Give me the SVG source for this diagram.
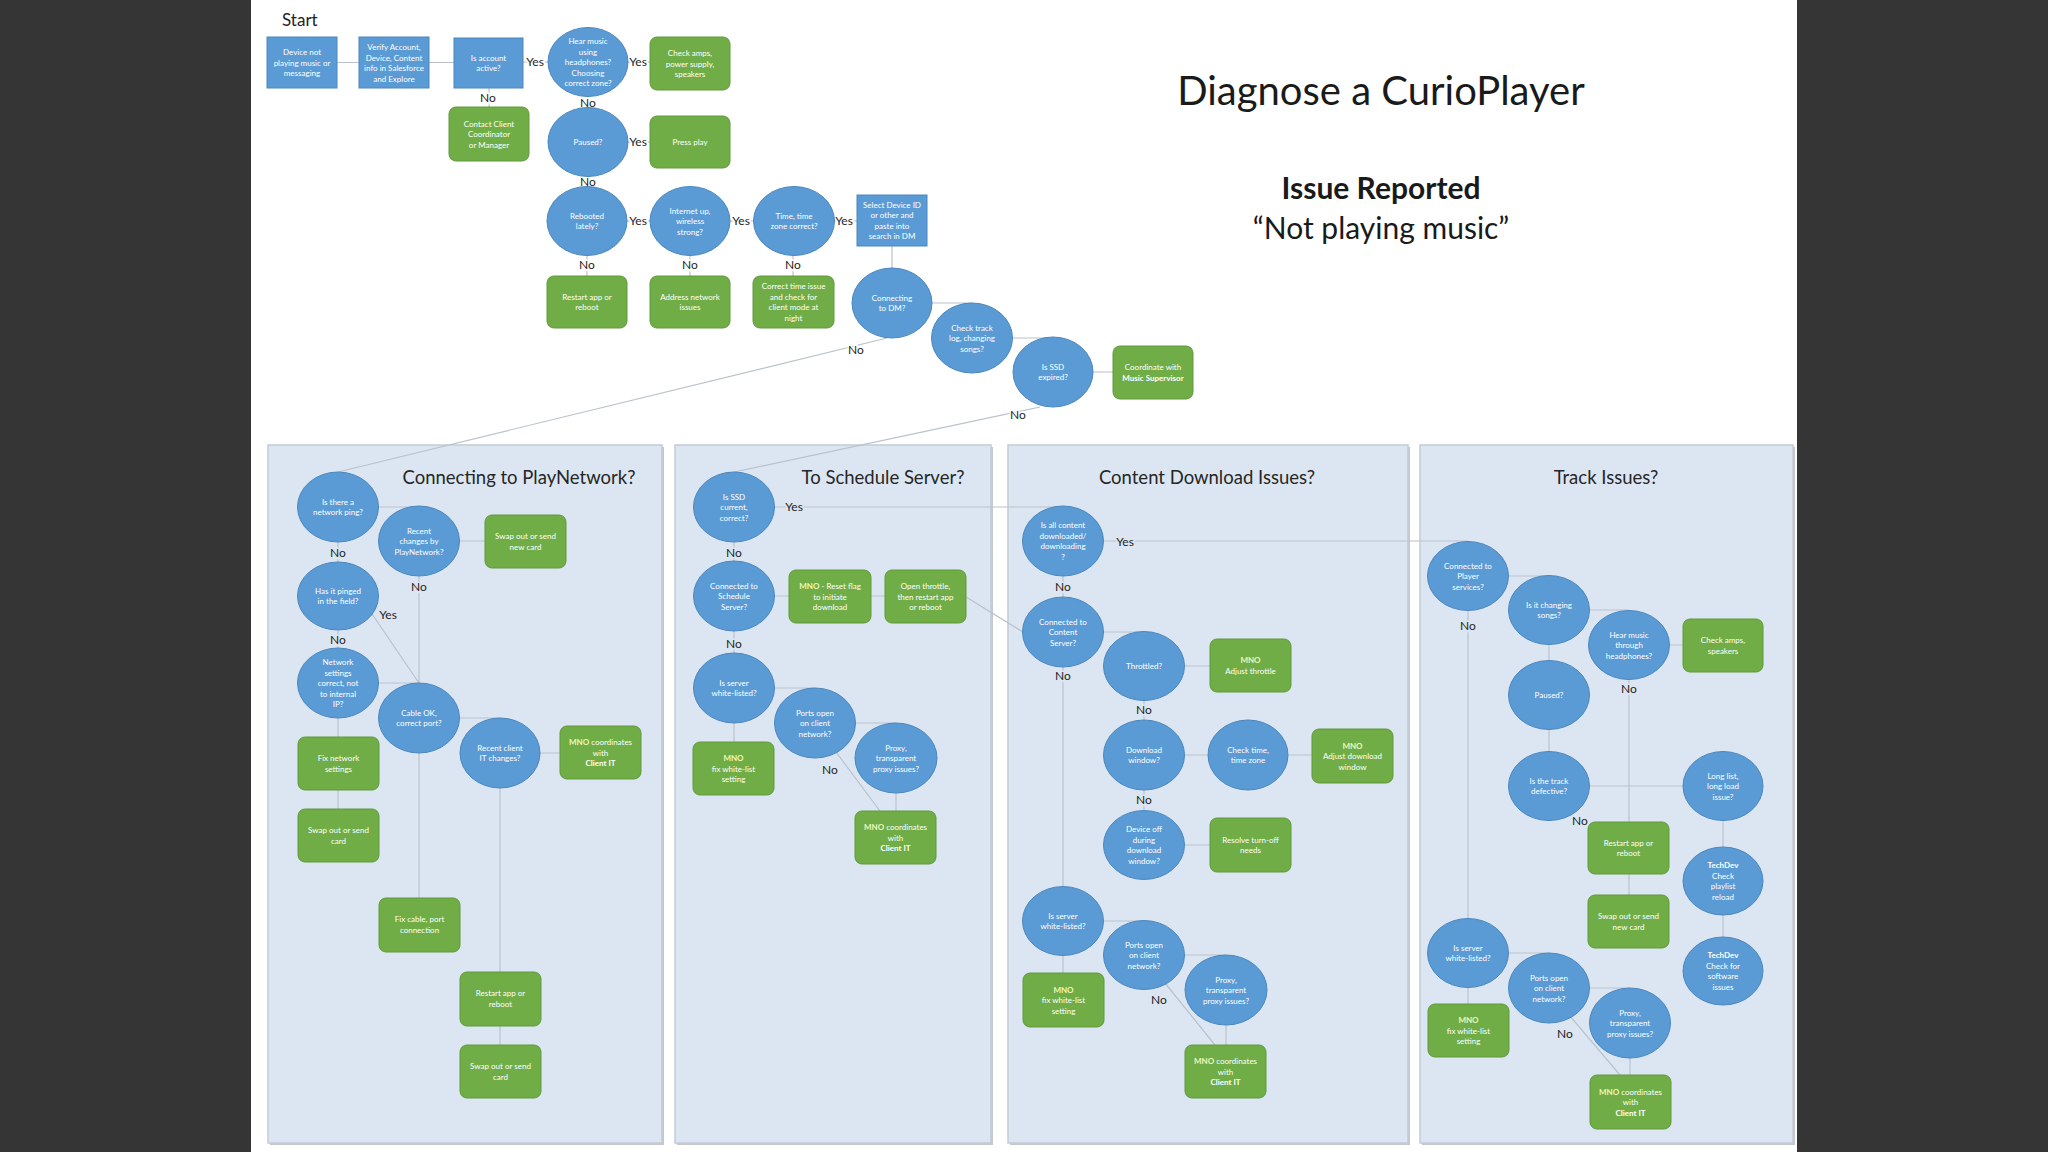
<svg xmlns="http://www.w3.org/2000/svg" width="2048" height="1152" viewBox="0 0 2048 1152">
<style>
.bc{fill:#5b9bd5;stroke:#4a86bd;stroke-width:1}
.br{fill:#5b9bd5;stroke:#4a86bd;stroke-width:1}
.gr{fill:#70ad47;stroke:#5f9a3a;stroke-width:1}
.t{font-family:Lato,"Open Sans",sans-serif;font-size:8px;fill:#ffffff;text-anchor:middle}
.mno{font-weight:bold;fill:#eef8b8}
.bd{font-weight:bold}
.ln{fill:none;stroke:#b9c2cc;stroke-width:1.2}
.lw{font-family:Lato,"Open Sans",sans-serif;font-size:12px;fill:#1e1e1e;text-anchor:middle;paint-order:stroke;stroke:#ffffff;stroke-width:3}
.lb{font-family:Lato,"Open Sans",sans-serif;font-size:12px;fill:#1e1e1e;text-anchor:middle;paint-order:stroke;stroke:#dce6f2;stroke-width:3}
.panel{fill:#dce6f2;stroke:#c3cbd5;stroke-width:1.5}
.pshadow{fill:#c4c8cc}
.pt{font-family:Lato,"Open Sans",sans-serif;font-size:18.5px;fill:#262626;text-anchor:middle}
</style>
<rect x="0" y="0" width="2048" height="1152" fill="#353535"/>
<rect x="251" y="0" width="1546" height="1152" fill="#ffffff"/>

<g id="panels">
<rect class="pshadow" x="270" y="447" width="394" height="698"/>
<rect class="panel" x="268" y="445" width="394" height="698"/>
<rect class="pshadow" x="677" y="447" width="316" height="698"/>
<rect class="panel" x="675" y="445" width="316" height="698"/>
<rect class="pshadow" x="1010" y="447" width="400" height="698"/>
<rect class="panel" x="1008" y="445" width="400" height="698"/>
<rect class="pshadow" x="1422" y="447" width="373" height="698"/>
<rect class="panel" x="1420" y="445" width="373" height="698"/>
<text class="pt" x="519" y="484">Connecting to PlayNetwork?</text>
<text class="pt" x="883" y="484">To Schedule Server?</text>
<text class="pt" x="1207" y="484">Content Download Issues?</text>
<text class="pt" x="1606" y="484">Track Issues?</text>
</g>

<g id="titles">
<text x="282" y="26" font-family="Lato,'Open Sans',sans-serif" font-size="17" fill="#222">Start</text>
<text x="1381" y="105" font-family="Lato,'Open Sans',sans-serif" font-size="40" fill="#1a1a1a" text-anchor="middle">Diagnose a CurioPlayer</text>
<text x="1381" y="199" font-family="Lato,'Open Sans',sans-serif" font-size="30" font-weight="bold" fill="#1a1a1a" text-anchor="middle">Issue Reported</text>
<text x="1381" y="239" font-family="Lato,'Open Sans',sans-serif" font-size="30" fill="#1a1a1a" text-anchor="middle">“Not playing music”</text>
</g>

<g id="connectors">
<path class="ln" d="M337 62.5H359M429 62.5H454M523 62H548M628 62H650M489 88V107M588 96V108M628 142H650M588 176V187M627 221H650M730 221H753M834 221H857M587 255V276M690 255V276M793 255V276M892 246V268M932 303H972M1012 338H1053M1093 372H1113M887 338L338 472M1040 407L734 472"/>
<path class="ln" d="M379 507H419M460 541H485M338 542V562M419 576V683M338 631V648M372 614L419 683M379 683H419M338 717V737M338 790V809M460 718H500M419 753V898M540 753H560M500 788V972M500 1026V1045"/>
<path class="ln" d="M774 507H1063M734 542V562M774 596H789M871 596H885M966 597L1023 632M734 631V653M774 688H815M855 723H896M734 723V742M896 793V811M836 752L880 811"/>
<path class="ln" d="M1104 541H1468M1063 576V597M1104 632H1144M1185 666H1210M1063 666V887M1144 700V720M1185 755H1208M1288 755H1312M1144 790V811M1185 845H1210M1104 921H1144M1185 955H1226M1063 956V973M1226 1025V1045M1165 983L1215 1045"/>
<path class="ln" d="M1509 576H1549M1589 610H1629M1670 645H1683M1468 610V919M1549 645V661M1549 729V752M1629 679V822M1589 786H1683M1629 874V895M1723 821V847M1723 915V937M1509 953H1549M1590 988H1630M1468 988V1004M1630 1058V1075M1570 1016L1620 1075"/>
<g id="labels">
<text class="lw" x="535" y="66">Yes</text><text class="lw" x="638" y="66">Yes</text>
<text class="lw" x="488" y="102">No</text><text class="lw" x="588" y="107">No</text>
<text class="lw" x="638" y="146">Yes</text><text class="lw" x="588" y="186">No</text>
<text class="lw" x="638" y="225">Yes</text><text class="lw" x="741" y="225">Yes</text><text class="lw" x="844" y="225">Yes</text>
<text class="lw" x="587" y="269">No</text><text class="lw" x="690" y="269">No</text><text class="lw" x="793" y="269">No</text>
<text class="lw" x="856" y="354">No</text><text class="lw" x="1018" y="419">No</text>
<text class="lb" x="338" y="557">No</text><text class="lb" x="419" y="591">No</text><text class="lb" x="388" y="619">Yes</text><text class="lb" x="338" y="644">No</text>
<text class="lb" x="794" y="511">Yes</text><text class="lb" x="734" y="557">No</text><text class="lb" x="734" y="648">No</text><text class="lb" x="830" y="774">No</text>
<text class="lb" x="1125" y="546">Yes</text><text class="lb" x="1063" y="591">No</text><text class="lb" x="1063" y="680">No</text><text class="lb" x="1144" y="714">No</text><text class="lb" x="1144" y="804">No</text><text class="lb" x="1159" y="1004">No</text>
<text class="lb" x="1468" y="630">No</text><text class="lb" x="1629" y="693">No</text><text class="lb" x="1580" y="825">No</text><text class="lb" x="1565" y="1038">No</text>
</g>
</g>

<g id="top-nodes">
<g id="b1"><rect class="br" x="267" y="37" width="70" height="51"/><text class="t" y="55"><tspan x="302">Device not</tspan><tspan x="302" dy="10.5">playing music or</tspan><tspan x="302" dy="10.5">messaging</tspan></text></g>
<g id="b2"><rect class="br" x="359" y="37" width="70" height="51"/><text class="t" y="50"><tspan x="394">Verify Account,</tspan><tspan x="394" dy="10.5">Device, Content</tspan><tspan x="394" dy="10.5">info in Salesforce</tspan><tspan x="394" dy="10.5">and Explore</tspan></text></g>
<g id="b3"><rect class="br" x="454" y="38" width="69" height="50"/><text class="t" y="60.75"><tspan x="488.5">Is account</tspan><tspan x="488.5" dy="10.5">active?</tspan></text></g>
<g id="c1"><ellipse class="bc" cx="588" cy="62" rx="40" ry="34.5"/><text class="t" y="44"><tspan x="588">Hear music</tspan><tspan x="588" dy="10.5">using</tspan><tspan x="588" dy="10.5">headphones?</tspan><tspan x="588" dy="10.5">Choosing</tspan><tspan x="588" dy="10.5">correct zone?</tspan></text></g>
<g id="g1"><rect class="gr" x="650" y="37" width="80" height="53" rx="7"/><text class="t" y="56"><tspan x="690">Check amps,</tspan><tspan x="690" dy="10.5">power supply,</tspan><tspan x="690" dy="10.5">speakers</tspan></text></g>
<g id="g2"><rect class="gr" x="449" y="107" width="80" height="54" rx="7"/><text class="t" y="126.5"><tspan x="489">Contact Client</tspan><tspan x="489" dy="10.5">Coordinator</tspan><tspan x="489" dy="10.5">or Manager</tspan></text></g>
<g id="c2"><ellipse class="bc" cx="588" cy="142" rx="40" ry="34.5"/><text class="t" x="588" y="145">Paused?</text></g>
<g id="g3"><rect class="gr" x="650" y="116" width="80" height="52" rx="7"/><text class="t" x="690" y="145">Press play</text></g>
<g id="c3"><ellipse class="bc" cx="587" cy="221" rx="40" ry="34.5"/><text class="t" y="218.75"><tspan x="587">Rebooted</tspan><tspan x="587" dy="10.5">lately?</tspan></text></g>
<g id="c4"><ellipse class="bc" cx="690" cy="221" rx="40" ry="34.5"/><text class="t" y="213.5"><tspan x="690">Internet up,</tspan><tspan x="690" dy="10.5">wireless</tspan><tspan x="690" dy="10.5">strong?</tspan></text></g>
<g id="c5"><ellipse class="bc" cx="794" cy="221" rx="40.5" ry="34.5"/><text class="t" y="218.75"><tspan x="794">Time, time</tspan><tspan x="794" dy="10.5">zone correct?</tspan></text></g>
<g id="b4"><rect class="br" x="857" y="195" width="70" height="51"/><text class="t" y="207.75"><tspan x="892">Select Device ID</tspan><tspan x="892" dy="10.5">or other and</tspan><tspan x="892" dy="10.5">paste into</tspan><tspan x="892" dy="10.5">search in DM</tspan></text></g>
<g id="g4"><rect class="gr" x="547" y="276" width="80" height="52" rx="7"/><text class="t" y="299.75"><tspan x="587">Restart app or</tspan><tspan x="587" dy="10.5">reboot</tspan></text></g>
<g id="g5"><rect class="gr" x="650" y="276" width="80" height="52" rx="7"/><text class="t" y="299.75"><tspan x="690">Address network</tspan><tspan x="690" dy="10.5">issues</tspan></text></g>
<g id="g6"><rect class="gr" x="753" y="276" width="81" height="52" rx="7"/><text class="t" y="289.25"><tspan x="793.5">Correct time issue</tspan><tspan x="793.5" dy="10.5">and check for</tspan><tspan x="793.5" dy="10.5">client mode at</tspan><tspan x="793.5" dy="10.5">night</tspan></text></g>
<g id="c6"><ellipse class="bc" cx="892" cy="303" rx="40" ry="35"/><text class="t" y="300.75"><tspan x="892">Connecting</tspan><tspan x="892" dy="10.5">to DM?</tspan></text></g>
<g id="c7"><ellipse class="bc" cx="972" cy="338" rx="40.5" ry="35"/><text class="t" y="330.5"><tspan x="972">Check track</tspan><tspan x="972" dy="10.5">log, changing</tspan><tspan x="972" dy="10.5">songs?</tspan></text></g>
<g id="c8"><ellipse class="bc" cx="1053" cy="372" rx="40" ry="35"/><text class="t" y="369.75"><tspan x="1053">Is SSD</tspan><tspan x="1053" dy="10.5">expired?</tspan></text></g>
<g id="g7"><rect class="gr" x="1113" y="346" width="80" height="53" rx="7"/><text class="t" y="370.25"><tspan x="1153">Coordinate with</tspan><tspan x="1153" dy="10.5" class="bd">Music Supervisor</tspan></text></g>
</g>

<g id="panel1-nodes">
<g id="p1c1"><ellipse class="bc" cx="338" cy="507" rx="40.5" ry="35"/><text class="t" y="504.75"><tspan x="338">Is there a</tspan><tspan x="338" dy="10.5">network ping?</tspan></text></g>
<g id="p1c2"><ellipse class="bc" cx="419" cy="541" rx="40.5" ry="35"/><text class="t" y="533.5"><tspan x="419">Recent</tspan><tspan x="419" dy="10.5">changes by</tspan><tspan x="419" dy="10.5">PlayNetwork?</tspan></text></g>
<g id="p1g1"><rect class="gr" x="485" y="515" width="81" height="53" rx="7"/><text class="t" y="539.25"><tspan x="525.5">Swap out or send</tspan><tspan x="525.5" dy="10.5">new card</tspan></text></g>
<g id="p1c3"><ellipse class="bc" cx="338" cy="596" rx="40.5" ry="34"/><text class="t" y="593.75"><tspan x="338">Has it pinged</tspan><tspan x="338" dy="10.5">in the field?</tspan></text></g>
<g id="p1c4"><ellipse class="bc" cx="338" cy="683" rx="40.5" ry="35"/><text class="t" y="665"><tspan x="338">Network</tspan><tspan x="338" dy="10.5">settings</tspan><tspan x="338" dy="10.5">correct, not</tspan><tspan x="338" dy="10.5">to internal</tspan><tspan x="338" dy="10.5">IP?</tspan></text></g>
<g id="p1c5"><ellipse class="bc" cx="419" cy="718" rx="40.5" ry="35"/><text class="t" y="715.75"><tspan x="419">Cable OK,</tspan><tspan x="419" dy="10.5">correct port?</tspan></text></g>
<g id="p1c6"><ellipse class="bc" cx="500" cy="753" rx="40" ry="35"/><text class="t" y="750.75"><tspan x="500">Recent client</tspan><tspan x="500" dy="10.5">IT changes?</tspan></text></g>
<g id="p1g2"><rect class="gr" x="560" y="726" width="81" height="53" rx="7"/><text class="t" y="745"><tspan x="600.5"><tspan class="mno">MNO</tspan> coordinates</tspan><tspan x="600.5" dy="10.5">with</tspan><tspan x="600.5" dy="10.5" class="bd">Client IT</tspan></text></g>
<g id="p1g3"><rect class="gr" x="298" y="737" width="81" height="53" rx="7"/><text class="t" y="761.25"><tspan x="338.5">Fix network</tspan><tspan x="338.5" dy="10.5">settings</tspan></text></g>
<g id="p1g4"><rect class="gr" x="298" y="809" width="81" height="53" rx="7"/><text class="t" y="833.25"><tspan x="338.5">Swap out or send</tspan><tspan x="338.5" dy="10.5">card</tspan></text></g>
<g id="p1g5"><rect class="gr" x="379" y="898" width="81" height="54" rx="7"/><text class="t" y="922.25"><tspan x="419.5">Fix cable, port</tspan><tspan x="419.5" dy="10.5">connection</tspan></text></g>
<g id="p1g6"><rect class="gr" x="460" y="972" width="81" height="54" rx="7"/><text class="t" y="996.25"><tspan x="500.5">Restart app or</tspan><tspan x="500.5" dy="10.5">reboot</tspan></text></g>
<g id="p1g7"><rect class="gr" x="460" y="1045" width="81" height="53" rx="7"/><text class="t" y="1069.25"><tspan x="500.5">Swap out or send</tspan><tspan x="500.5" dy="10.5">card</tspan></text></g>
</g>

<g id="panel2-nodes">
<g id="p2c1"><ellipse class="bc" cx="734" cy="507" rx="40.5" ry="35"/><text class="t" y="499.5"><tspan x="734">Is SSD</tspan><tspan x="734" dy="10.5">current,</tspan><tspan x="734" dy="10.5">correct?</tspan></text></g>
<g id="p2c2"><ellipse class="bc" cx="734" cy="596" rx="40.5" ry="35"/><text class="t" y="588.5"><tspan x="734">Connected to</tspan><tspan x="734" dy="10.5">Schedule</tspan><tspan x="734" dy="10.5">Server?</tspan></text></g>
<g id="p2g1"><rect class="gr" x="789" y="570" width="82" height="53" rx="7"/><text class="t" y="589"><tspan x="830"><tspan class="mno">MNO</tspan> - Reset flag</tspan><tspan x="830" dy="10.5">to initiate</tspan><tspan x="830" dy="10.5">download</tspan></text></g>
<g id="p2g2"><rect class="gr" x="885" y="570" width="81" height="53" rx="7"/><text class="t" y="589"><tspan x="925.5">Open throttle,</tspan><tspan x="925.5" dy="10.5">then restart app</tspan><tspan x="925.5" dy="10.5">or reboot</tspan></text></g>
<g id="p2c3"><ellipse class="bc" cx="734" cy="688" rx="40.5" ry="35"/><text class="t" y="685.75"><tspan x="734">Is server</tspan><tspan x="734" dy="10.5">white-listed?</tspan></text></g>
<g id="p2c4"><ellipse class="bc" cx="815" cy="723" rx="40.5" ry="35"/><text class="t" y="715.5"><tspan x="815">Ports open</tspan><tspan x="815" dy="10.5">on client</tspan><tspan x="815" dy="10.5">network?</tspan></text></g>
<g id="p2c5"><ellipse class="bc" cx="896" cy="758" rx="41" ry="35"/><text class="t" y="750.5"><tspan x="896">Proxy,</tspan><tspan x="896" dy="10.5">transparent</tspan><tspan x="896" dy="10.5">proxy issues?</tspan></text></g>
<g id="p2g3"><rect class="gr" x="693" y="742" width="81" height="53" rx="7"/><text class="t" y="761"><tspan x="733.5" class="mno">MNO</tspan><tspan x="733.5" dy="10.5">fix white-list</tspan><tspan x="733.5" dy="10.5">setting</tspan></text></g>
<g id="p2g4"><rect class="gr" x="855" y="811" width="81" height="53" rx="7"/><text class="t" y="830"><tspan x="895.5"><tspan class="mno">MNO</tspan> coordinates</tspan><tspan x="895.5" dy="10.5">with</tspan><tspan x="895.5" dy="10.5" class="bd">Client IT</tspan></text></g>
</g>

<g id="panel3-nodes">
<g id="p3c1"><ellipse class="bc" cx="1063" cy="541" rx="40.5" ry="35"/><text class="t" y="528.25"><tspan x="1063">Is all content</tspan><tspan x="1063" dy="10.5">downloaded/</tspan><tspan x="1063" dy="10.5">downloading</tspan><tspan x="1063" dy="10.5">?</tspan></text></g>
<g id="p3c2"><ellipse class="bc" cx="1063" cy="632" rx="40.5" ry="35"/><text class="t" y="624.5"><tspan x="1063">Connected to</tspan><tspan x="1063" dy="10.5">Content</tspan><tspan x="1063" dy="10.5">Server?</tspan></text></g>
<g id="p3c3"><ellipse class="bc" cx="1144" cy="666" rx="40.5" ry="34.5"/><text class="t" x="1144" y="669">Throttled?</text></g>
<g id="p3g1"><rect class="gr" x="1210" y="639" width="81" height="53" rx="7"/><text class="t" y="663.25"><tspan x="1250.5" class="mno">MNO</tspan><tspan x="1250.5" dy="10.5">Adjust throttle</tspan></text></g>
<g id="p3c4"><ellipse class="bc" cx="1144" cy="755" rx="40.5" ry="35"/><text class="t" y="752.75"><tspan x="1144">Download</tspan><tspan x="1144" dy="10.5">window?</tspan></text></g>
<g id="p3c5"><ellipse class="bc" cx="1248" cy="755" rx="40" ry="35"/><text class="t" y="752.75"><tspan x="1248">Check time,</tspan><tspan x="1248" dy="10.5">time zone</tspan></text></g>
<g id="p3g2"><rect class="gr" x="1312" y="729" width="81" height="54" rx="7"/><text class="t" y="748.5"><tspan x="1352.5" class="mno">MNO</tspan><tspan x="1352.5" dy="10.5">Adjust download</tspan><tspan x="1352.5" dy="10.5">window</tspan></text></g>
<g id="p3c6"><ellipse class="bc" cx="1144" cy="845" rx="40.5" ry="34.5"/><text class="t" y="832.25"><tspan x="1144">Device off</tspan><tspan x="1144" dy="10.5">during</tspan><tspan x="1144" dy="10.5">download</tspan><tspan x="1144" dy="10.5">window?</tspan></text></g>
<g id="p3g3"><rect class="gr" x="1210" y="818" width="81" height="54" rx="7"/><text class="t" y="842.75"><tspan x="1250.5">Resolve turn-off</tspan><tspan x="1250.5" dy="10.5">needs</tspan></text></g>
<g id="p3c7"><ellipse class="bc" cx="1063" cy="921" rx="40.5" ry="34.5"/><text class="t" y="918.75"><tspan x="1063">Is server</tspan><tspan x="1063" dy="10.5">white-listed?</tspan></text></g>
<g id="p3c8"><ellipse class="bc" cx="1144" cy="955" rx="40.5" ry="34.5"/><text class="t" y="947.5"><tspan x="1144">Ports open</tspan><tspan x="1144" dy="10.5">on client</tspan><tspan x="1144" dy="10.5">network?</tspan></text></g>
<g id="p3c9"><ellipse class="bc" cx="1226" cy="990" rx="41" ry="35"/><text class="t" y="982.5"><tspan x="1226">Proxy,</tspan><tspan x="1226" dy="10.5">transparent</tspan><tspan x="1226" dy="10.5">proxy issues?</tspan></text></g>
<g id="p3g4"><rect class="gr" x="1023" y="973" width="81" height="54" rx="7"/><text class="t" y="992.5"><tspan x="1063.5" class="mno">MNO</tspan><tspan x="1063.5" dy="10.5">fix white-list</tspan><tspan x="1063.5" dy="10.5">setting</tspan></text></g>
<g id="p3g5"><rect class="gr" x="1185" y="1045" width="81" height="53" rx="7"/><text class="t" y="1064"><tspan x="1225.5"><tspan class="mno">MNO</tspan> coordinates</tspan><tspan x="1225.5" dy="10.5">with</tspan><tspan x="1225.5" dy="10.5" class="bd">Client IT</tspan></text></g>
</g>

<g id="panel4-nodes">
<g id="p4c1"><ellipse class="bc" cx="1468" cy="576" rx="40.5" ry="34.5"/><text class="t" y="568.5"><tspan x="1468">Connected to</tspan><tspan x="1468" dy="10.5">Player</tspan><tspan x="1468" dy="10.5">services?</tspan></text></g>
<g id="p4c2"><ellipse class="bc" cx="1549" cy="610" rx="40.5" ry="34.5"/><text class="t" y="607.75"><tspan x="1549">Is it changing</tspan><tspan x="1549" dy="10.5">songs?</tspan></text></g>
<g id="p4c3"><ellipse class="bc" cx="1629" cy="645" rx="40.5" ry="34.5"/><text class="t" y="637.5"><tspan x="1629">Hear music</tspan><tspan x="1629" dy="10.5">through</tspan><tspan x="1629" dy="10.5">headphones?</tspan></text></g>
<g id="p4g1"><rect class="gr" x="1683" y="619" width="80" height="53" rx="7"/><text class="t" y="643.25"><tspan x="1723">Check amps,</tspan><tspan x="1723" dy="10.5">speakers</tspan></text></g>
<g id="p4c4"><ellipse class="bc" cx="1549" cy="695" rx="40.5" ry="34.5"/><text class="t" x="1549" y="698">Paused?</text></g>
<g id="p4c5"><ellipse class="bc" cx="1549" cy="786" rx="40.5" ry="34.5"/><text class="t" y="783.75"><tspan x="1549">Is the track</tspan><tspan x="1549" dy="10.5">defective?</tspan></text></g>
<g id="p4c6"><ellipse class="bc" cx="1723" cy="786" rx="40" ry="34.5"/><text class="t" y="778.5"><tspan x="1723">Long list,</tspan><tspan x="1723" dy="10.5">long load</tspan><tspan x="1723" dy="10.5">issue?</tspan></text></g>
<g id="p4g2"><rect class="gr" x="1588" y="822" width="81" height="52" rx="7"/><text class="t" y="845.75"><tspan x="1628.5">Restart app or</tspan><tspan x="1628.5" dy="10.5">reboot</tspan></text></g>
<g id="p4g3"><rect class="gr" x="1588" y="895" width="81" height="53" rx="7"/><text class="t" y="919.25"><tspan x="1628.5">Swap out or send</tspan><tspan x="1628.5" dy="10.5">new card</tspan></text></g>
<g id="p4c7"><ellipse class="bc" cx="1723" cy="881" rx="40" ry="34"/><text class="t" y="868.25"><tspan x="1723" class="bd">TechDev</tspan><tspan x="1723" dy="10.5">Check</tspan><tspan x="1723" dy="10.5">playlist</tspan><tspan x="1723" dy="10.5">reload</tspan></text></g>
<g id="p4c8"><ellipse class="bc" cx="1723" cy="971" rx="40" ry="34"/><text class="t" y="958.25"><tspan x="1723" class="bd">TechDev</tspan><tspan x="1723" dy="10.5">Check for</tspan><tspan x="1723" dy="10.5">software</tspan><tspan x="1723" dy="10.5">issues</tspan></text></g>
<g id="p4c9"><ellipse class="bc" cx="1468" cy="953" rx="40.5" ry="34.5"/><text class="t" y="950.75"><tspan x="1468">Is server</tspan><tspan x="1468" dy="10.5">white-listed?</tspan></text></g>
<g id="p4c10"><ellipse class="bc" cx="1549" cy="988" rx="40.5" ry="35"/><text class="t" y="980.5"><tspan x="1549">Ports open</tspan><tspan x="1549" dy="10.5">on client</tspan><tspan x="1549" dy="10.5">network?</tspan></text></g>
<g id="p4c11"><ellipse class="bc" cx="1630" cy="1023" rx="40.5" ry="35"/><text class="t" y="1015.5"><tspan x="1630">Proxy,</tspan><tspan x="1630" dy="10.5">transparent</tspan><tspan x="1630" dy="10.5">proxy issues?</tspan></text></g>
<g id="p4g4"><rect class="gr" x="1428" y="1004" width="81" height="53" rx="7"/><text class="t" y="1023"><tspan x="1468.5" class="mno">MNO</tspan><tspan x="1468.5" dy="10.5">fix white-list</tspan><tspan x="1468.5" dy="10.5">setting</tspan></text></g>
<g id="p4g5"><rect class="gr" x="1590" y="1075" width="81" height="54" rx="7"/><text class="t" y="1094.5"><tspan x="1630.5"><tspan class="mno">MNO</tspan> coordinates</tspan><tspan x="1630.5" dy="10.5">with</tspan><tspan x="1630.5" dy="10.5" class="bd">Client IT</tspan></text></g>
</g>
</svg>
